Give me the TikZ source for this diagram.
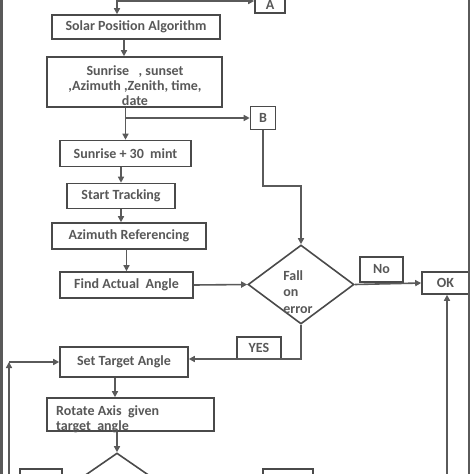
\documentclass[tikz,border=0pt]{standalone}
\usepackage{fontspec}
\setmainfont{Carlito}
\usetikzlibrary{arrows.meta,shapes.geometric}
\definecolor{ln}{HTML}{5A5A5A}
\definecolor{bx}{HTML}{4A4A4A}
\definecolor{tx}{HTML}{585858}
\tikzset{
  box/.style={draw=bx,line width=1.6pt,rectangle,inner sep=0pt,text=tx,font=\fontsize{14}{15}\selectfont\bfseries},
  dia/.style={draw=bx,line width=1.6pt,diamond,inner sep=0pt},
  arr/.style={draw=ln,line width=1.6pt,-{Triangle[length=6pt,width=6pt]}},
  lin/.style={draw=ln,line width=1.6pt},
  txt/.style={inner sep=0pt,text=tx,font=\fontsize{14}{15}\selectfont\bfseries}
}
\begin{document}
\begin{tikzpicture}[x=1pt,y=-1pt]
\useasboundingbox (0,0) rectangle (474,474);
\clip (0,0) rectangle (474,474);
\fill[white] (0,0) rectangle (474,474);
% nodes
\node[box,minimum width=30pt,minimum height=17pt] (A) at (270,4.5) {A};
\node[box,minimum width=168pt,minimum height=24pt] (solar) at (136,27) {Solar Position Algorithm};
\node[box,minimum width=175pt,minimum height=50pt] (sun) at (134.5,82) {};
\node[txt,align=center,font=\fontsize{14}{15}\selectfont\bfseries] (suntxt) at (135,86) {Sunrise\ \ \ , sunset\\,Azimuth ,Zenith, time,\\date};
\node[box,minimum width=25pt,minimum height=23pt] (B) at (263,118) {B};
\node[box,minimum width=131pt,minimum height=26pt] (s30) at (125.5,153.5) {Sunrise + 30\ \ mint};
\node[box,minimum width=108pt,minimum height=25pt] (start) at (121,196) {Start Tracking};
\node[box,minimum width=154pt,minimum height=26pt] (azref) at (129,236) {Azimuth Referencing};
\node[box,minimum width=133pt,minimum height=26pt] (find) at (126.5,285) {Find Actual\ \ Angle};
\node[dia,minimum width=106pt,minimum height=79pt] (fall) at (301,284.5) {};
\node[txt,align=left,font=\fontsize{14}{16.5}\selectfont\bfseries] (falltxt) at (298,292) {Fall\\on\\error};
\node[box,minimum width=43pt,minimum height=25pt] (no) at (381.5,269.5) {No};
\node[box,minimum width=47pt,minimum height=22pt] (ok) at (445.5,283) {OK};
\node[box,minimum width=44pt,minimum height=22pt] (yes) at (259,348) {YES};
\node[box,minimum width=128pt,minimum height=30pt] (set) at (124,362) {Set Target Angle};
\node[box,minimum width=167pt,minimum height=33pt] (rot) at (130.5,414.5) {};
\node[txt,align=left,anchor=west,font=\fontsize{14}{15}\selectfont\bfseries] (rottxt) at (56,419) {Rotate Axis\ \ given\\target\ \ angle};
\node[dia,minimum width=136pt,minimum height=94pt] (bd) at (117,500) {};
\node[box,minimum width=42pt,minimum height=22pt] (bl) at (41,480) {};
\node[box,minimum width=50pt,minimum height=22pt] (br) at (288,480) {};
% free ends
\coordinate (top) at (117,-2);
\coordinate (ta) at (117,1);
\coordinate (lb) at (9,476);
\coordinate (ob) at (447,476);
\coordinate (rt) at (469,-2);
\coordinate (rb) at (469,476);
\coordinate (le) at (1.5,-2);
\coordinate (leb) at (1.5,476);
% connectors
\draw[line width=3pt,draw=black!65] (le) -- (leb);
\draw[lin] (rt) -- (rb);
\draw[arr] (top) -- (solar.north -| top);
\draw[arr] (ta) -- (ta -| A.west);
\draw[arr] ([xshift=-12pt]solar.south) -- ([xshift=-12pt]solar.south |- sun.north);
\draw[arr] (s30.north |- sun.south) -- (s30.north);
\draw[arr] (B.west -| s30.north) -- (B.west);
\draw[arr] (B.south) |- ([yshift=58pt]fall.north) -- (fall.north);
\draw[arr] (start.north |- s30.south) -- (start.north);
\draw[arr] (start.south) -- (start.south |- azref.north);
\draw[arr] (find.north |- azref.south) -- (find.north);
\draw[arr] (find.east) -- (fall.west);
\draw[arr] (fall.east) -- (ok.west);
\draw[arr] (fall.south) |- ([yshift=3pt]set.east);
\draw[arr] (lb) -- (lb |- set.west);
\draw[arr] (lb |- set.west) -- (set.west);
\draw[arr] ([xshift=-9pt]set.south) -- ([xshift=-9pt]set.south |- rot.north);
\draw[arr] (bd.north |- rot.south) -- (bd.north);
\draw[arr] (ob) -- (ob |- ok.south);
\end{tikzpicture}
\end{document}
